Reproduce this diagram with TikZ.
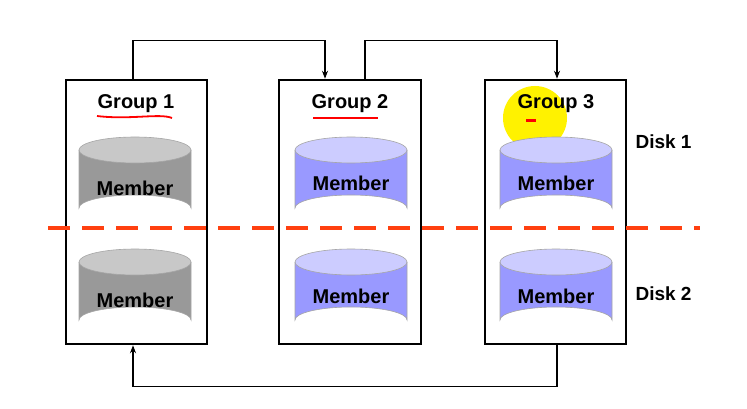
\documentclass[tikz,border=0pt]{standalone}
\usepackage{fontspec}
\setmainfont{Liberation Sans}
\usetikzlibrary{arrows.meta}
\definecolor{gtop}{HTML}{C8C8C8}\definecolor{gbody}{HTML}{999999}
\definecolor{btop}{HTML}{CCCCFF}\definecolor{bbody}{HTML}{9999FF}
\definecolor{dashred}{HTML}{FF4010}
\tikzset{
 box/.style={draw,line width=2.5pt},
 lbl/.style={font=\bfseries\fontsize{20}{22}\selectfont},
 conn/.style={draw,line width=1.3pt,-{Stealth[length=8pt,width=6pt]}},
 pics/cyl/.style args={#1/#2/#3}{code={
   \fill[#2] (-56,0) -- (-56,58) arc[start angle=180,end angle=360,x radius=56,y radius=13] -- (56,0) -- cycle;
   \draw[gray!70,line width=0.6pt] (-56,0) -- (-56,58) arc[start angle=180,end angle=360,x radius=56,y radius=13] -- (56,0);
   \draw[gray!70,line width=0.6pt,fill=#1] (0,0) ellipse[x radius=56,y radius=13];
   \node[lbl] (-m) at (0,#3) {Member};
 }}
}
\begin{document}
\begin{tikzpicture}[x=1pt,y=-1pt]
\useasboundingbox[fill=white] (0,0) rectangle (747,409);
\node[box,minimum width=141pt,minimum height=264pt] (g1) at (136.5,212) {};
\node[box,minimum width=142pt,minimum height=264pt] (g2) at (350,212) {};
\node[box,minimum width=141pt,minimum height=264pt] (g3) at (555.5,212) {};
\fill[yellow] (535,118) circle (32);
\node[lbl] (t1) at (136,104) {Group 1};
\node[lbl] (t2) at (350,104) {Group 2};
\node[lbl] (t3) at (556,104) {Group 3};
\draw[red,line width=1.8pt] (97,116) .. controls (130,120) and (160,113) .. (172,118);
\draw[red,line width=1.8pt] (313,118) -- (378,118);
\fill[red] (526,119) rectangle (536,122);
\pic (c1) at (135,150) {cyl=gtop/gbody/38};
\pic (c2) at (135,262) {cyl=gtop/gbody/38};
\pic (c3) at (351,150) {cyl=btop/bbody/33};
\pic (c4) at (351,262) {cyl=btop/bbody/34};
\pic (c5) at (556,150) {cyl=btop/bbody/33};
\pic (c6) at (556,262) {cyl=btop/bbody/34};
\draw[dashred,line width=4.5pt,dash pattern=on 22pt off 12pt] (48,228) -- (700,228);
\node[lbl,anchor=west,font=\bfseries\fontsize{19}{21}\selectfont] (d1) at (632,142) {Disk 1};
\node[lbl,anchor=west,font=\bfseries\fontsize{19}{21}\selectfont] (d2) at (632,294) {Disk 2};
\draw[conn] ([xshift=-3.5pt]g1.north) -- ++(0,-38) -| ([xshift=-25pt]g2.north);
\draw[conn] ([xshift=15pt]g2.north) -- ++(0,-38) -| ([xshift=1.5pt]g3.north);
\draw[conn] ([xshift=1.5pt]g3.south) -- ++(0,41) -| ([xshift=-3.5pt]g1.south);
\end{tikzpicture}
\end{document}
